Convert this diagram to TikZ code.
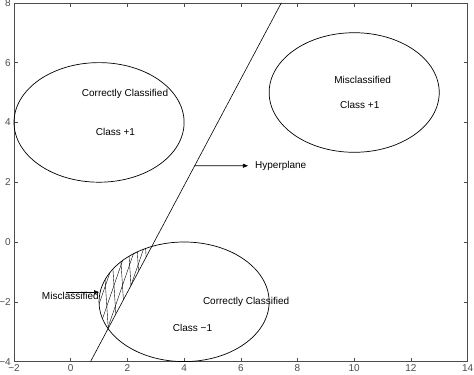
\documentclass[tikz,border=0pt]{standalone}
\usepackage{fontspec}
\setmainfont{Liberation Sans}
\usetikzlibrary{arrows.meta,calc}
\begin{document}
\begin{tikzpicture}[x=28.35pt,y=29.9pt,
  lbl/.style={anchor=west,inner sep=0pt,font=\fontsize{10}{12}\selectfont},
  ticklbl/.style={inner sep=0pt,font=\fontsize{10}{12}\selectfont,text=black!70},
  axisline/.style={draw=black!70,line width=0.6pt},
  curve/.style={draw=black,line width=0.7pt},
  arr/.style={-{Triangle[length=5pt,width=4pt]},line width=0.6pt}]
\useasboundingbox (-2.494,-4.415) rectangle (14.226,8.094);
% hatched region
\begin{scope}
  \clip (4,-2) ellipse [x radius=3, y radius=2];
  \clip (0.7,-4) -- (7.43,8) -- (-3,8) -- (-3,-4) -- cycle;
  \foreach \i in {-3,-2.7,...,3}{
    \draw[line width=0.4pt] (\i,-4) -- ++(1.6,4.4);
    \draw[line width=0.4pt] (\i+0.5,-4) -- ++(-0.3,4.4);
  }
\end{scope}
% axes box
\draw[axisline] (-2,-4) rectangle (14,8);
\foreach \x in {-2,0,...,14}{
  \draw[axisline] (\x,-4) -- ++(0,4pt);
  \draw[axisline] (\x,8) -- ++(0,-4pt);
  \node[ticklbl,anchor=north] (xl\x) at ($(\x,-4)+(0,-2.5pt)$) {\ifnum\x<0 −\the\numexpr-\x\relax\else\x\fi};
}
\foreach \y in {-4,-2,...,8}{
  \draw[axisline] (-2,\y) -- ++(4pt,0);
  \draw[axisline] (14,\y) -- ++(-4pt,0);
  \node[ticklbl,anchor=east] (yl\y) at ($(-2,\y)+(-3pt,0)$) {\ifnum\y<0 −\the\numexpr-\y\relax\else\y\fi};
}
% ellipses
\draw[curve] (1,4) ellipse [x radius=3, y radius=2];
\draw[curve] (10,5) ellipse [x radius=3, y radius=2];
\draw[curve] (4,-2) ellipse [x radius=3, y radius=2];
% hyperplane
\coordinate (hb) at (0.7,-4);
\coordinate (ht) at (7.43,8);
\draw[line width=0.6pt] (hb) -- (ht);
\coordinate (hp) at ($(hb)!0.5458!(ht)$);
% labels
\node[lbl] (cc1) at (0.39,4.94) {Correctly Classified};
\node[lbl] (c1) at (0.88,3.69) {Class +1};
\node[lbl] (mc1) at (9.29,5.41) {Misclassified};
\node[lbl] (c2) at (9.5,4.6) {Class +1};
\node[lbl] (hyper) at (6.5,2.55) {Hyperplane};
\node[lbl] (cc2) at (4.66,-2.0) {Correctly Classified};
\node[lbl] (c3) at (3.6,-2.89) {Class −1};
\node[lbl] (mc2) at (-1.02,-1.81) {Misclassified};
% arrows
\draw[arr] (hp) -- ([xshift=-7pt]hyper.west);
\coordinate (ms) at (-0.15,-1.68);
\coordinate (me) at (1.0,-1.68);
\draw[arr] (ms) -- (me);
\end{tikzpicture}
\end{document}
